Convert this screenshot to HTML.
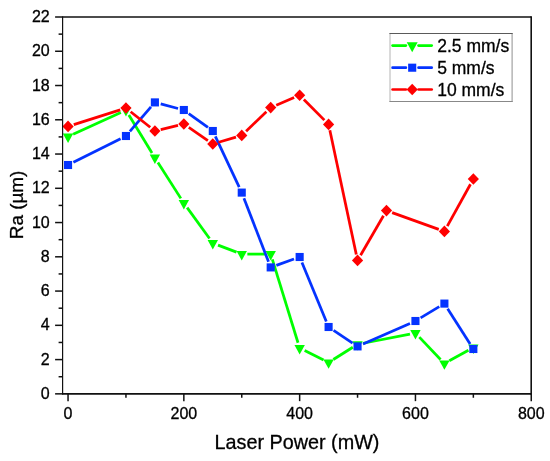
<!DOCTYPE html>
<html><head><meta charset="utf-8"><title>Ra vs Laser Power</title>
<style>html,body{margin:0;padding:0;background:#fff}svg{display:block}</style></head>
<body>
<svg width="550" height="461" viewBox="0 0 550 461" font-family="'Liberation Sans', sans-serif" fill="#000">
<style>text{stroke:#000;stroke-width:0.3px}</style>
<rect width="550" height="461" fill="#fff"/>
<g stroke="#00ff00" stroke-width="2.75" stroke-linecap="butt" fill="none">
<line x1="73.14" y1="134.37" x2="120.86" y2="112.53"/>
<line x1="128.86" y1="114.98" x2="151.99" y2="152.92"/>
<line x1="157.91" y1="162.42" x2="180.84" y2="198.38"/>
<line x1="187.13" y1="207.64" x2="209.52" y2="238.56"/>
<line x1="218.03" y1="245.09" x2="236.52" y2="252.11"/>
<line x1="247.35" y1="254.10" x2="265.10" y2="254.10"/>
<line x1="272.35" y1="259.45" x2="298.00" y2="342.75"/>
<line x1="304.66" y1="350.59" x2="323.59" y2="360.01"/>
<line x1="333.34" y1="359.52" x2="352.81" y2="347.28"/>
<line x1="363.05" y1="343.24" x2="409.95" y2="334.16"/>
<line x1="419.31" y1="337.16" x2="440.54" y2="359.44"/>
<line x1="449.31" y1="360.80" x2="468.44" y2="350.30"/>
</g>
<g fill="#00ff00">
<polygon points="62.85,133.60 73.25,133.60 68.05,143.00"/>
<polygon points="120.75,107.10 131.15,107.10 125.95,116.50"/>
<polygon points="149.70,154.60 160.10,154.60 154.90,164.00"/>
<polygon points="178.65,200.00 189.05,200.00 183.85,209.40"/>
<polygon points="207.60,240.00 218.00,240.00 212.80,249.40"/>
<polygon points="236.55,251.00 246.95,251.00 241.75,260.40"/>
<polygon points="265.50,251.00 275.90,251.00 270.70,260.40"/>
<polygon points="294.45,345.00 304.85,345.00 299.65,354.40"/>
<polygon points="323.40,359.40 333.80,359.40 328.60,368.80"/>
<polygon points="352.35,341.20 362.75,341.20 357.55,350.60"/>
<polygon points="410.25,330.00 420.65,330.00 415.45,339.40"/>
<polygon points="439.20,360.40 449.60,360.40 444.40,369.80"/>
<polygon points="468.15,344.50 478.55,344.50 473.35,353.90"/>
</g>
<g stroke="#0433ff" stroke-width="2.75" stroke-linecap="butt" fill="none">
<line x1="73.41" y1="162.31" x2="120.59" y2="138.69"/>
<line x1="129.87" y1="131.45" x2="150.98" y2="106.95"/>
<line x1="160.70" y1="103.92" x2="178.05" y2="108.48"/>
<line x1="188.71" y1="113.52" x2="207.94" y2="127.48"/>
<line x1="215.35" y1="136.43" x2="239.20" y2="187.17"/>
<line x1="243.92" y1="198.20" x2="268.53" y2="261.80"/>
<line x1="276.35" y1="265.37" x2="294.00" y2="259.03"/>
<line x1="301.94" y1="262.54" x2="326.31" y2="321.46"/>
<line x1="333.58" y1="330.34" x2="352.57" y2="343.06"/>
<line x1="363.04" y1="343.99" x2="409.96" y2="323.41"/>
<line x1="420.59" y1="317.91" x2="439.26" y2="306.69"/>
<line x1="447.63" y1="308.66" x2="470.12" y2="343.94"/>
</g>
<g fill="#0433ff">
<rect x="64.00" y="160.95" width="8.10" height="8.10"/>
<rect x="121.90" y="131.95" width="8.10" height="8.10"/>
<rect x="150.85" y="98.35" width="8.10" height="8.10"/>
<rect x="179.80" y="105.95" width="8.10" height="8.10"/>
<rect x="208.75" y="126.95" width="8.10" height="8.10"/>
<rect x="237.70" y="188.55" width="8.10" height="8.10"/>
<rect x="266.65" y="263.35" width="8.10" height="8.10"/>
<rect x="295.60" y="252.95" width="8.10" height="8.10"/>
<rect x="324.55" y="322.95" width="8.10" height="8.10"/>
<rect x="353.50" y="342.35" width="8.10" height="8.10"/>
<rect x="411.40" y="316.95" width="8.10" height="8.10"/>
<rect x="440.35" y="299.55" width="8.10" height="8.10"/>
<rect x="469.30" y="344.95" width="8.10" height="8.10"/>
</g>
<g stroke="#ff0000" stroke-width="2.75" stroke-linecap="butt" fill="none">
<line x1="73.77" y1="124.58" x2="120.23" y2="109.82"/>
<line x1="130.65" y1="111.73" x2="150.20" y2="127.27"/>
<line x1="160.73" y1="129.59" x2="178.02" y2="125.41"/>
<line x1="188.79" y1="127.41" x2="207.86" y2="140.59"/>
<line x1="218.55" y1="142.29" x2="236.00" y2="137.11"/>
<line x1="246.08" y1="131.24" x2="266.37" y2="111.76"/>
<line x1="276.22" y1="105.24" x2="294.13" y2="97.56"/>
<line x1="303.87" y1="99.46" x2="324.38" y2="120.14"/>
<line x1="329.85" y1="130.27" x2="356.30" y2="254.53"/>
<line x1="360.57" y1="255.21" x2="383.48" y2="215.79"/>
<line x1="392.15" y1="212.63" x2="438.75" y2="229.37"/>
<line x1="447.30" y1="226.15" x2="470.45" y2="184.25"/>
</g>
<g fill="#ff0000">
<polygon points="62.45,126.40 68.05,120.60 73.65,126.40 68.05,132.20"/>
<polygon points="120.35,108.00 125.95,102.20 131.55,108.00 125.95,113.80"/>
<polygon points="149.30,131.00 154.90,125.20 160.50,131.00 154.90,136.80"/>
<polygon points="178.25,124.00 183.85,118.20 189.45,124.00 183.85,129.80"/>
<polygon points="207.20,144.00 212.80,138.20 218.40,144.00 212.80,149.80"/>
<polygon points="236.15,135.40 241.75,129.60 247.35,135.40 241.75,141.20"/>
<polygon points="265.10,107.60 270.70,101.80 276.30,107.60 270.70,113.40"/>
<polygon points="294.05,95.20 299.65,89.40 305.25,95.20 299.65,101.00"/>
<polygon points="323.00,124.40 328.60,118.60 334.20,124.40 328.60,130.20"/>
<polygon points="351.95,260.40 357.55,254.60 363.15,260.40 357.55,266.20"/>
<polygon points="380.90,210.60 386.50,204.80 392.10,210.60 386.50,216.40"/>
<polygon points="438.80,231.40 444.40,225.60 450.00,231.40 444.40,237.20"/>
<polygon points="467.75,179.00 473.35,173.20 478.95,179.00 473.35,184.80"/>
</g>
<g stroke="#111" stroke-width="1.5" fill="none" stroke-linecap="butt">
<line x1="62.6" y1="16.2" x2="62.6" y2="394.65000000000003" stroke-width="1.2"/>
<line x1="531.2" y1="16.2" x2="531.2" y2="394.65000000000003" stroke-width="1.6"/>
<line x1="62.6" y1="17.0" x2="531.2" y2="17.0" stroke-width="1.6"/>
<line x1="62.6" y1="393.85" x2="531.2" y2="393.85" stroke-width="1.6"/>
<line x1="55.10" y1="393.85" x2="62.60" y2="393.85"/>
<line x1="58.60" y1="376.72" x2="62.60" y2="376.72"/>
<line x1="55.10" y1="359.59" x2="62.60" y2="359.59"/>
<line x1="58.60" y1="342.46" x2="62.60" y2="342.46"/>
<line x1="55.10" y1="325.33" x2="62.60" y2="325.33"/>
<line x1="58.60" y1="308.20" x2="62.60" y2="308.20"/>
<line x1="55.10" y1="291.07" x2="62.60" y2="291.07"/>
<line x1="58.60" y1="273.94" x2="62.60" y2="273.94"/>
<line x1="55.10" y1="256.81" x2="62.60" y2="256.81"/>
<line x1="58.60" y1="239.68" x2="62.60" y2="239.68"/>
<line x1="55.10" y1="222.55" x2="62.60" y2="222.55"/>
<line x1="58.60" y1="205.43" x2="62.60" y2="205.43"/>
<line x1="55.10" y1="188.30" x2="62.60" y2="188.30"/>
<line x1="58.60" y1="171.17" x2="62.60" y2="171.17"/>
<line x1="55.10" y1="154.04" x2="62.60" y2="154.04"/>
<line x1="58.60" y1="136.91" x2="62.60" y2="136.91"/>
<line x1="55.10" y1="119.78" x2="62.60" y2="119.78"/>
<line x1="58.60" y1="102.65" x2="62.60" y2="102.65"/>
<line x1="55.10" y1="85.52" x2="62.60" y2="85.52"/>
<line x1="58.60" y1="68.39" x2="62.60" y2="68.39"/>
<line x1="55.10" y1="51.26" x2="62.60" y2="51.26"/>
<line x1="58.60" y1="34.13" x2="62.60" y2="34.13"/>
<line x1="55.10" y1="17.00" x2="62.60" y2="17.00"/>
<line x1="68.05" y1="393.85" x2="68.05" y2="401.15"/>
<line x1="125.95" y1="393.85" x2="125.95" y2="397.75"/>
<line x1="183.85" y1="393.85" x2="183.85" y2="401.15"/>
<line x1="241.75" y1="393.85" x2="241.75" y2="397.75"/>
<line x1="299.65" y1="393.85" x2="299.65" y2="401.15"/>
<line x1="357.55" y1="393.85" x2="357.55" y2="397.75"/>
<line x1="415.45" y1="393.85" x2="415.45" y2="401.15"/>
<line x1="473.35" y1="393.85" x2="473.35" y2="397.75"/>
<line x1="531.25" y1="393.85" x2="531.25" y2="401.15"/>
</g>
<g font-size="16.0" text-anchor="end">
<text x="49.7" y="399.00">0</text>
<text x="49.7" y="364.74">2</text>
<text x="49.7" y="330.48">4</text>
<text x="49.7" y="296.22">6</text>
<text x="49.7" y="261.96">8</text>
<text x="49.7" y="227.70">10</text>
<text x="49.7" y="193.45">12</text>
<text x="49.7" y="159.19">14</text>
<text x="49.7" y="124.93">16</text>
<text x="49.7" y="90.67">18</text>
<text x="49.7" y="56.41">20</text>
<text x="49.7" y="22.15">22</text>
</g>
<g font-size="16.0" text-anchor="middle">
<text x="68.05" y="418.7">0</text>
<text x="183.85" y="418.7">200</text>
<text x="299.65" y="418.7">400</text>
<text x="415.45" y="418.7">600</text>
<text x="531.25" y="418.7">800</text>
</g>
<text x="297" y="448.5" font-size="19.8" text-anchor="middle">Laser Power (mW)</text>
<text transform="translate(23.1,204.9) rotate(-90)" font-size="18.9" text-anchor="middle">Ra (µm)</text>
<rect x="390.0" y="33.5" width="122.10000000000002" height="67.95" fill="#fff"/>
<g fill="none" stroke-linecap="square">
<line x1="390.0" y1="33.5" x2="390.0" y2="101.45" stroke="#b4b4b4" stroke-width="1"/>
<line x1="512.1" y1="33.5" x2="512.1" y2="101.45" stroke="#9a9a9a" stroke-width="1.1"/>
<line x1="390.0" y1="101.45" x2="512.1" y2="101.45" stroke="#888" stroke-width="1.1"/>
<line x1="390.0" y1="33.5" x2="512.1" y2="33.5" stroke="#5a5a5a" stroke-width="1.1"/>
</g>
<g stroke="#00ff00" stroke-width="2.7" stroke-linecap="round"><line x1="392.6" y1="45.6" x2="405.84999999999997" y2="45.6"/><line x1="418.55" y1="45.6" x2="431.7" y2="45.6"/></g>
<g fill="#00ff00"><polygon points="406.74,42.34 417.66,42.34 412.20,52.22"/></g>
<text x="437.2" y="51.80" font-size="17.5">2.5 mm/s</text>
<g stroke="#0433ff" stroke-width="2.7" stroke-linecap="round"><line x1="392.6" y1="67.7" x2="405.84999999999997" y2="67.7"/><line x1="418.55" y1="67.7" x2="431.7" y2="67.7"/></g>
<g fill="#0433ff"><rect x="408.15" y="63.65" width="8.10" height="8.10"/></g>
<text x="437.2" y="73.90" font-size="17.5">5 mm/s</text>
<g stroke="#ff0000" stroke-width="2.7" stroke-linecap="round"><line x1="392.6" y1="89.5" x2="405.84999999999997" y2="89.5"/><line x1="418.55" y1="89.5" x2="431.7" y2="89.5"/></g>
<g fill="#ff0000"><polygon points="406.60,89.50 412.20,83.70 417.80,89.50 412.20,95.30"/></g>
<text x="437.2" y="95.70" font-size="17.5">10 mm/s</text>
</svg>
</body></html>
